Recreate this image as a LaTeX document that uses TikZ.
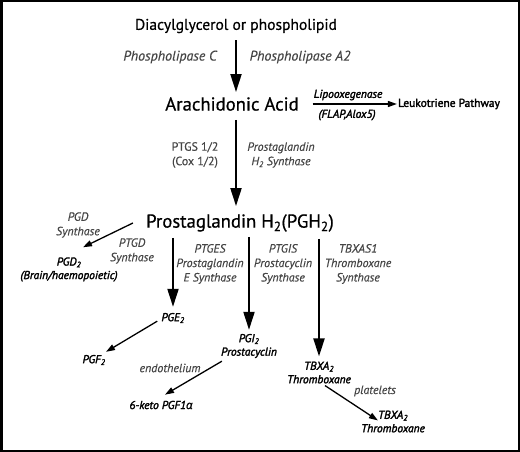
\documentclass[tikz,border=0pt]{standalone}
\usepackage{fontspec}
\setmainfont{PT Sans}
\newfontfamily\medfont{PT Sans}[FakeBold=0.6]
\newfontfamily\enzfont{PT Sans}[FakeBold=0.3]
\newfontfamily\semifont{PT Sans}[FakeBold=2.2]
\newfontfamily\grk{Open Sans}[FakeBold=1.5]
\usetikzlibrary{arrows.meta}
\definecolor{enz}{HTML}{454545}
\tikzset{
  big/.style={font=\fontsize{18.8}{21}\selectfont\medfont, inner sep=0pt},
  title/.style={font=\fontsize{15.6}{18}\selectfont\medfont, inner sep=0pt},
  plab/.style={font=\fontsize{14}{16}\selectfont\enzfont\itshape, text=enz, inner sep=0pt},
  enzl/.style={font=\fontsize{12}{14.5}\selectfont\enzfont\itshape, text=enz, align=center, inner sep=0pt},
  enzu/.style={font=\fontsize{12}{14.5}\selectfont\enzfont, text=enz, align=center, inner sep=0pt},
  prod/.style={font=\fontsize{11.5}{13.5}\selectfont\semifont\itshape, align=center, inner sep=0pt},
  small/.style={font=\fontsize{11.5}{13}\selectfont\semifont\itshape, inner sep=0pt},
  lt/.style={font=\fontsize{11.5}{13}\selectfont\semifont, inner sep=0pt},
  mainarrow/.style={line width=2bp, -{Triangle[length=18bp,width=11bp]}},
  diagarrow/.style={line width=1.3bp, -{Triangle[length=9bp,width=6bp]}},
}
\begin{document}
\begin{tikzpicture}[x=1bp,y=-1bp]
\useasboundingbox (0,0) rectangle (520,452);
\draw[line width=2.5bp] (1.25,1.25) rectangle (518.75,450.75);

\node[title] (dag) at (236,26) {Diacylglycerol or phospholipid};
\node[plab] (plc) at (170,57) {Phospholipase C};
\node[plab] (pla) at (300,57) {Phospholipase A2};
\node[big] (aa) at (232,104) {Arachidonic Acid};
\node[small] (lox) at (348,95) {Lipooxegenase};
\node[small] (flap) at (347,115) {(FLAP,Alox5)};
\node[lt] (lt) at (449,104) {Leukotriene Pathway};
\node[enzu] (ptgs) at (195,155) {PTGS 1/2\\(Cox 1/2)};
\node[enzl] (pghs) at (281,155) {Prostaglandin\\H\textsubscript{2} Synthase};
\node[big] (pgh) at (240,223) {Prostaglandin H\textsubscript{2}(PGH\textsubscript{2})};

\node[enzl] (pgds) at (78,225) {PGD\\Synthase};
\node[enzl] (ptgd) at (132,251) {PTGD\\Synthase};
\node[prod] (pgd) at (69,269.5) {PGD\textsubscript{2}\\(Brain/haemopoietic)};

\node[enzl] (ptges) at (210,264) {PTGES\\Prostaglandin\\E Synthase};
\node[enzl] (ptgis) at (283,264) {PTGIS\\Prostacyclin\\Synthase};
\node[enzl] (tbxas) at (358,264) {TBXAS1\\Thromboxane\\Synthase};

\node[prod] (pge) at (173,318) {PGE\textsubscript{2}};
\node[prod] (pgf) at (94,360) {PGF\textsubscript{2}};
\node[prod] (pgi) at (249,346) {PGI\textsubscript{2}\\Prostacyclin};
\node[enzl] (endo) at (170,368) {endothelium};
\node[prod] (keto) at (161,405) {6-keto PGF1{\grk α}};
\node[prod] (tbx) at (319,372.5) {TBXA\textsubscript{2}\\Thromboxane};
\node[enzl] (plt) at (375,391) {platelets};
\node[prod] (tbx2) at (393,421.5) {TBXA\textsubscript{2}\\Thromboxane};

% main vertical arrows
\draw[mainarrow, shorten <=7bp, shorten >=5bp] (dag.south -| 236,0) -- (236,0 |- aa.north);
\draw[mainarrow, shorten <=9bp, shorten >=8bp] (aa.south -| 236,0) -- (236,0 |- pgh.north);
\draw[mainarrow, shorten <=6bp, shorten >=6bp] (pge |- pgh.south) -- (pge.north);
\draw[mainarrow, shorten <=5bp, shorten >=4bp] (pgi |- pgh.south) -- (pgi.north);
\draw[mainarrow, shorten <=7bp, shorten >=5bp] (tbx |- pgh.south) -- (tbx.north);

% side arrows
\draw[diagarrow] ([xshift=-1bp]lox.west |- lt.west) -- ([xshift=-1bp]lt.west);
\draw[diagarrow] ([xshift=-13bp]pgh.west) -- ([xshift=14bp,yshift=10bp]pgd.north);
\draw[diagarrow] ([xshift=-4bp,yshift=2bp]pge.south west) -- ([xshift=12bp,yshift=3bp]pgf.north);
\draw[diagarrow] ([xshift=1bp,yshift=-3bp]pgi.south west) -- ([xshift=4bp,yshift=6bp]keto.north);
\draw[diagarrow] ([xshift=6bp,yshift=-2bp]tbx.south) -- ([xshift=17bp,yshift=-10bp]tbx2.north west);
\end{tikzpicture}
\end{document}
